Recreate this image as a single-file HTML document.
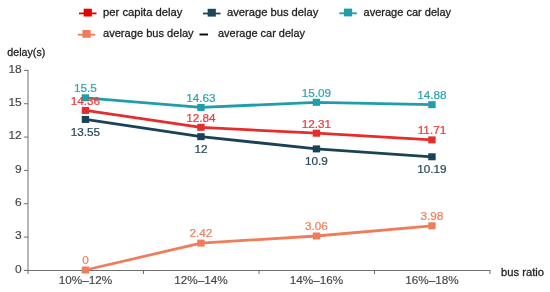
<!DOCTYPE html>
<html><head><meta charset="utf-8"><style>
html,body{margin:0;padding:0;background:#fff;width:550px;height:292px;overflow:hidden}
svg{display:block}
text{font-family:'Liberation Sans', 'Noto Sans CJK SC', sans-serif;}
</style></head><body>
<svg width="550" height="292" viewBox="0 0 550 292">
<rect width="550" height="292" fill="#fff"/>

<g stroke="#6e6e6e" stroke-width="1" fill="none">
<line x1="28" y1="69.9" x2="28" y2="270.5"/>
<line x1="24" y1="270.40" x2="28" y2="270.40"/>
<line x1="24" y1="237.07" x2="28" y2="237.07"/>
<line x1="24" y1="203.73" x2="28" y2="203.73"/>
<line x1="24" y1="170.40" x2="28" y2="170.40"/>
<line x1="24" y1="137.07" x2="28" y2="137.07"/>
<line x1="24" y1="103.73" x2="28" y2="103.73"/>
<line x1="24" y1="70.40" x2="28" y2="70.40"/>
<line x1="24" y1="270.5" x2="490" y2="270.5"/>
<line x1="28.00" y1="270" x2="28.00" y2="274"/>
<line x1="143.50" y1="270" x2="143.50" y2="274"/>
<line x1="259.00" y1="270" x2="259.00" y2="274"/>
<line x1="374.50" y1="270" x2="374.50" y2="274"/>
<line x1="490.00" y1="270" x2="490.00" y2="274"/>
</g>
<g stroke="#444" stroke-width="0.15">
<text transform="translate(21.80,272.50) scale(1.0,0.93)" font-size="12" fill="#444" text-anchor="end">0</text>
<text transform="translate(21.80,239.17) scale(1.0,0.93)" font-size="12" fill="#444" text-anchor="end">3</text>
<text transform="translate(21.80,205.83) scale(1.0,0.93)" font-size="12" fill="#444" text-anchor="end">6</text>
<text transform="translate(21.80,172.50) scale(1.0,0.93)" font-size="12" fill="#444" text-anchor="end">9</text>
<text transform="translate(21.80,139.17) scale(1.0,0.93)" font-size="12" fill="#444" text-anchor="end">12</text>
<text transform="translate(21.80,105.83) scale(1.0,0.93)" font-size="12" fill="#444" text-anchor="end">15</text>
<text transform="translate(21.80,72.50) scale(1.0,0.93)" font-size="12" fill="#444" text-anchor="end">18</text>
</g>
<g stroke="#444" stroke-width="0.15">
<text transform="translate(85.45,283.70) scale(0.98,0.93)" font-size="12" fill="#444" text-anchor="middle">10%–12%</text>
<text transform="translate(200.95,283.70) scale(0.98,0.93)" font-size="12" fill="#444" text-anchor="middle">12%–14%</text>
<text transform="translate(316.45,283.70) scale(0.98,0.93)" font-size="12" fill="#444" text-anchor="middle">14%–16%</text>
<text transform="translate(431.95,283.70) scale(0.98,0.93)" font-size="12" fill="#444" text-anchor="middle">16%–18%</text>
</g>
<text x="7.3" y="55.8" font-size="11.5" fill="#222" stroke="#222" stroke-width="0.3" textLength="38" lengthAdjust="spacingAndGlyphs">delay(s)</text>
<text x="501" y="275.8" font-size="11.5" fill="#222" stroke="#222" stroke-width="0.3" textLength="43" lengthAdjust="spacingAndGlyphs">bus ratio</text>
<polyline points="85.45,270.00 200.95,243.11 316.45,236.00 431.95,225.78" fill="none" stroke="#ef7d5c" stroke-width="2.8" stroke-linejoin="round"/>
<rect x="81.75" y="266.50" width="7.4" height="7.0" fill="#ef7d5c"/>
<rect x="197.25" y="239.61" width="7.4" height="7.0" fill="#ef7d5c"/>
<rect x="312.75" y="232.50" width="7.4" height="7.0" fill="#ef7d5c"/>
<rect x="428.25" y="222.28" width="7.4" height="7.0" fill="#ef7d5c"/>
<polyline points="85.45,119.44 200.95,136.67 316.45,148.89 431.95,156.78" fill="none" stroke="#1a4257" stroke-width="2.8" stroke-linejoin="round"/>
<rect x="81.75" y="115.94" width="7.4" height="7.0" fill="#1a4257"/>
<rect x="197.25" y="133.17" width="7.4" height="7.0" fill="#1a4257"/>
<rect x="312.75" y="145.39" width="7.4" height="7.0" fill="#1a4257"/>
<rect x="428.25" y="153.28" width="7.4" height="7.0" fill="#1a4257"/>
<polyline points="85.45,110.44 200.95,127.33 316.45,133.22 431.95,139.89" fill="none" stroke="#e62d2d" stroke-width="2.8" stroke-linejoin="round"/>
<rect x="81.75" y="106.94" width="7.4" height="7.0" fill="#e62d2d"/>
<rect x="197.25" y="123.83" width="7.4" height="7.0" fill="#e62d2d"/>
<rect x="312.75" y="129.72" width="7.4" height="7.0" fill="#e62d2d"/>
<rect x="428.25" y="136.39" width="7.4" height="7.0" fill="#e62d2d"/>
<polyline points="85.45,97.78 200.95,107.44 316.45,102.33 431.95,104.67" fill="none" stroke="#1e9ea8" stroke-width="2.8" stroke-linejoin="round"/>
<rect x="81.75" y="94.28" width="7.4" height="7.0" fill="#1e9ea8"/>
<rect x="197.25" y="103.94" width="7.4" height="7.0" fill="#1e9ea8"/>
<rect x="312.75" y="98.83" width="7.4" height="7.0" fill="#1e9ea8"/>
<rect x="428.25" y="101.17" width="7.4" height="7.0" fill="#1e9ea8"/>
<text transform="translate(85.45,264.30) scale(0.98,0.93)" font-size="12" fill="#f08060" text-anchor="middle" stroke="#f08060" stroke-width="0.25">0</text>
<text transform="translate(200.95,237.41) scale(0.98,0.93)" font-size="12" fill="#f08060" text-anchor="middle" stroke="#f08060" stroke-width="0.25">2.42</text>
<text transform="translate(316.45,230.30) scale(0.98,0.93)" font-size="12" fill="#f08060" text-anchor="middle" stroke="#f08060" stroke-width="0.25">3.06</text>
<text transform="translate(431.95,220.08) scale(0.98,0.93)" font-size="12" fill="#f08060" text-anchor="middle" stroke="#f08060" stroke-width="0.25">3.98</text>
<text transform="translate(85.45,135.64) scale(0.98,0.93)" font-size="12" fill="#2b4a5c" text-anchor="middle" stroke="#2b4a5c" stroke-width="0.25">13.55</text>
<text transform="translate(200.95,152.87) scale(0.98,0.93)" font-size="12" fill="#2b4a5c" text-anchor="middle" stroke="#2b4a5c" stroke-width="0.25">12</text>
<text transform="translate(316.45,165.09) scale(0.98,0.93)" font-size="12" fill="#2b4a5c" text-anchor="middle" stroke="#2b4a5c" stroke-width="0.25">10.9</text>
<text transform="translate(431.95,172.98) scale(0.98,0.93)" font-size="12" fill="#2b4a5c" text-anchor="middle" stroke="#2b4a5c" stroke-width="0.25">10.19</text>
<text transform="translate(85.45,104.74) scale(0.98,0.93)" font-size="12" fill="#ee3b3b" text-anchor="middle" stroke="#ee3b3b" stroke-width="0.25">14.36</text>
<text transform="translate(200.95,121.63) scale(0.98,0.93)" font-size="12" fill="#ee3b3b" text-anchor="middle" stroke="#ee3b3b" stroke-width="0.25">12.84</text>
<text transform="translate(316.45,127.52) scale(0.98,0.93)" font-size="12" fill="#ee3b3b" text-anchor="middle" stroke="#ee3b3b" stroke-width="0.25">12.31</text>
<text transform="translate(431.95,134.19) scale(0.98,0.93)" font-size="12" fill="#ee3b3b" text-anchor="middle" stroke="#ee3b3b" stroke-width="0.25">11.71</text>
<text transform="translate(85.45,92.08) scale(0.98,0.93)" font-size="12" fill="#2fa5b0" text-anchor="middle" stroke="#2fa5b0" stroke-width="0.25">15.5</text>
<text transform="translate(200.95,101.74) scale(0.98,0.93)" font-size="12" fill="#2fa5b0" text-anchor="middle" stroke="#2fa5b0" stroke-width="0.25">14.63</text>
<text transform="translate(316.45,96.63) scale(0.98,0.93)" font-size="12" fill="#2fa5b0" text-anchor="middle" stroke="#2fa5b0" stroke-width="0.25">15.09</text>
<text transform="translate(431.95,98.97) scale(0.98,0.93)" font-size="12" fill="#2fa5b0" text-anchor="middle" stroke="#2fa5b0" stroke-width="0.25">14.88</text>
<line x1="79" y1="13.4" x2="96.5" y2="13.4" stroke="#e60000" stroke-width="1.8"/><rect x="83.65" y="8.7" width="8.2" height="7.8" fill="#e60000"/>
<line x1="203" y1="13.5" x2="220.5" y2="13.5" stroke="#1d465b" stroke-width="1.8"/><rect x="207.65" y="8.8" width="8.2" height="7.8" fill="#1d465b"/>
<line x1="339.3" y1="13.3" x2="356.8" y2="13.3" stroke="#1e9ea8" stroke-width="1.8"/><rect x="343.95" y="8.600000000000001" width="8.2" height="7.8" fill="#1e9ea8"/>
<line x1="77.8" y1="34.7" x2="95.3" y2="34.7" stroke="#ef7d5c" stroke-width="1.8"/><rect x="82.45" y="30.000000000000004" width="8.2" height="7.8" fill="#ef7d5c"/>
<line x1="199.5" y1="34.5" x2="208" y2="34.5" stroke="#111" stroke-width="2"/>
<text x="103" y="15.8" font-size="11.5" fill="#222" stroke="#222" stroke-width="0.3" lengthAdjust="spacingAndGlyphs" textLength="79.5">per capita delay</text>
<text x="227" y="15.8" font-size="11.5" fill="#222" stroke="#222" stroke-width="0.3" lengthAdjust="spacingAndGlyphs" textLength="91.3">average bus delay</text>
<text x="363.5" y="15.8" font-size="11.5" fill="#222" stroke="#222" stroke-width="0.3" lengthAdjust="spacingAndGlyphs" textLength="87.6">average car delay</text>
<text x="103" y="37.3" font-size="11.5" fill="#222" stroke="#222" stroke-width="0.3" lengthAdjust="spacingAndGlyphs" textLength="90.6">average bus delay</text>
<text x="218" y="37.3" font-size="11.5" fill="#222" stroke="#222" stroke-width="0.3" lengthAdjust="spacingAndGlyphs" textLength="87">average car delay</text>
</svg></body></html>
